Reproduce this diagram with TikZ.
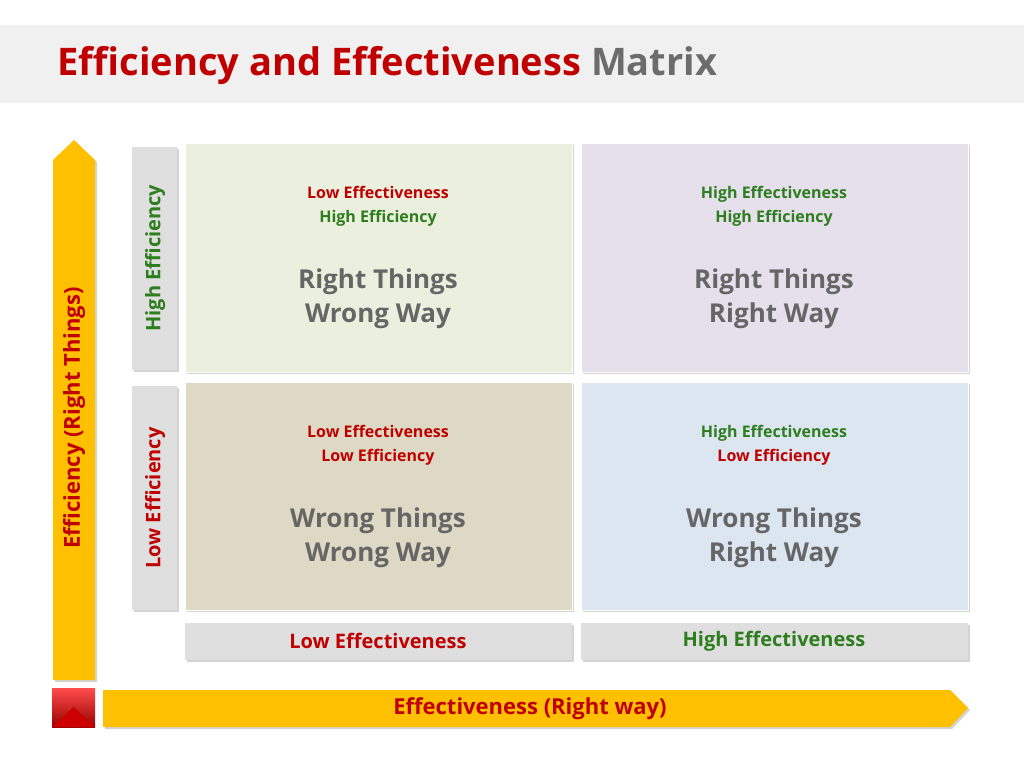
\documentclass[tikz,border=0pt]{standalone}
\usepackage{fontspec}
\setmainfont{Open Sans}
\usetikzlibrary{shadows}
\begin{document}
\begin{tikzpicture}[x=1pt,y=-1pt,
  quad/.style={draw=white,line width=1pt,drop shadow={shadow xshift=2pt,shadow yshift=-2pt,opacity=.35}},
  gbox/.style={fill=gray!25,drop shadow={shadow xshift=2pt,shadow yshift=-2pt,opacity=.35}},
  small/.style={font=\fontsize{16}{24}\selectfont\bfseries,align=center},
  big/.style={font=\fontsize{26}{34}\selectfont\bfseries,text=gray!80!black,align=center},
  lab/.style={font=\fontsize{20}{24}\selectfont\bfseries}]
\useasboundingbox (0,0) rectangle (1024,768);
\definecolor{dred}{HTML}{C00000}\definecolor{dgreen}{HTML}{2E7D1E}
\definecolor{yel}{HTML}{FFC000}
\fill[gray!12] (0,25) rectangle (1024,103);
\node[anchor=west,font=\fontsize{38}{44}\selectfont\bfseries] (title) at (54,66) {\textcolor{dred}{Efficiency and Effectiveness} \textcolor{gray!85!black}{Matrix}};
% arrows
\fill[yel,drop shadow={shadow xshift=2pt,shadow yshift=-2pt,opacity=.35}] (53,680) -- (53,160) -- (74,140) -- (95,160) -- (95,680) -- cycle;
\node[rotate=90,text=dred,font=\fontsize{22}{26}\selectfont\bfseries] (va) at (74,418) {Efficiency (Right Things)};
\fill[yel,drop shadow={shadow xshift=2pt,shadow yshift=-2pt,opacity=.35}] (103,690) -- (950,690) -- (968,708) -- (950,727) -- (103,727) -- cycle;
\node[text=dred,font=\fontsize{22}{26}\selectfont\bfseries] (ha) at (530,709) {Effectiveness (Right way)};
\shade[top color=red!70,bottom color=red!60!black] (52,688) rectangle (95,727);
\fill[red!80!black] (52,727) -- (73.5,707) -- (95,727) -- cycle;
% side labels
\fill[gbox] (132,147) rectangle (177,370);
\node[rotate=90,lab,text=dgreen] (he) at (155,258) {High Efficiency};
\fill[gbox] (132,386) rectangle (177,610);
\node[rotate=90,lab,text=dred] (le) at (155,498) {Low Efficiency};
\fill[gbox] (185,623) rectangle (572,660);
\node[lab,text=dred] (lx) at (378,641) {Low Effectiveness};
\fill[gbox] (581,623) rectangle (968,660);
\node[lab,text=dgreen] (hx) at (774,641) {High Effectiveness};
% quadrants
\filldraw[quad,fill={rgb,255:red,235;green,240;blue,222}] (185,143) rectangle (572,372);
\filldraw[quad,fill={rgb,255:red,230;green,224;blue,236}] (581,143) rectangle (968,372);
\filldraw[quad,fill={rgb,255:red,221;green,217;blue,196}] (185,382) rectangle (572,610);
\filldraw[quad,fill={rgb,255:red,220;green,230;blue,241}] (581,382) rectangle (968,610);
\node[small] (t1) at (378,206) {\textcolor{dred}{Low Effectiveness}\\\textcolor{dgreen}{High Efficiency}};
\node[big] (b1) at (378,299) {Right Things\\Wrong Way};
\node[small] (t2) at (774,206) {\textcolor{dgreen}{High Effectiveness}\\\textcolor{dgreen}{High Efficiency}};
\node[big] (b2) at (774,299) {Right Things\\Right Way};
\node[small] (t3) at (378,445) {\textcolor{dred}{Low Effectiveness}\\\textcolor{dred}{Low Efficiency}};
\node[big] (b3) at (378,538) {Wrong Things\\Wrong Way};
\node[small] (t4) at (774,445) {\textcolor{dgreen}{High Effectiveness}\\\textcolor{dred}{Low Efficiency}};
\node[big] (b4) at (774,538) {Wrong Things\\Right Way};
\end{tikzpicture}
\end{document}
